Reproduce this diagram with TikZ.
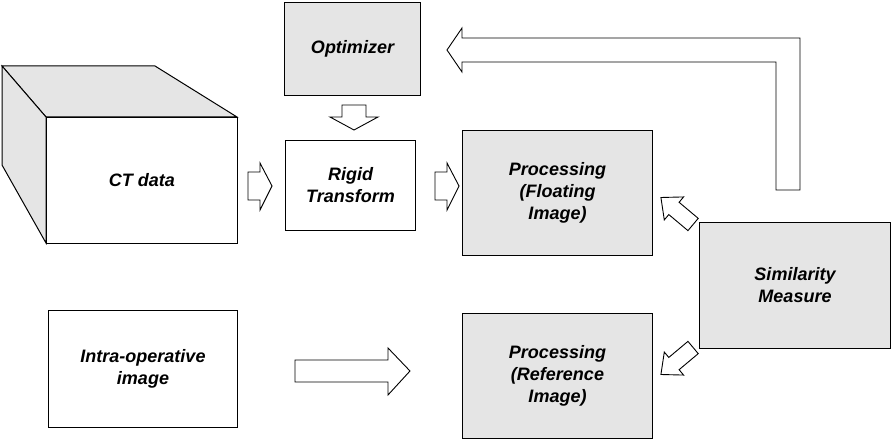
\documentclass[tikz,border=0pt]{standalone}
\usepackage{fontspec}
\setmainfont{Liberation Sans}
\begin{document}
\begin{tikzpicture}[x=1pt,y=-1pt,
  box/.style={draw,line width=1pt,fill=#1,align=center,font=\fontsize{18}{22}\selectfont\bfseries\itshape},
  box/.default=white,
  barrow/.style={draw,line width=0.9pt,fill=white,line join=miter}]
\definecolor{gr}{gray}{0.9}
\useasboundingbox (0,0) rectangle (894,443);
% cube
\draw[line width=1pt,fill=gr] (2,66) -- (155,66) -- (237,117) -- (46,117) -- cycle;
\draw[line width=1pt,fill=gr] (2,66) -- (46,117) -- (46,243) -- (2,165) -- cycle;
\node[box,minimum width=191pt,minimum height=126pt,anchor=north west] (ct) at (46,117) {CT data};
\node[box=gr,minimum width=136pt,minimum height=93pt,anchor=north west] (opt) at (284,2) {Optimizer};
\node[box,minimum width=130pt,minimum height=90pt,anchor=north west] (rig) at (285,140) {Rigid\\Transform};
\node[box=gr,minimum width=190pt,minimum height=125pt,anchor=north west] (pf) at (462,130) {Processing\\(Floating\\Image)};
\node[box=gr,minimum width=191pt,minimum height=126pt,anchor=north west] (sim) at (699,222) {Similarity\\Measure};
\node[box,minimum width=189pt,minimum height=117pt,anchor=north west] (intra) at (48,310) {Intra-operative\\image};
\node[box=gr,minimum width=190pt,minimum height=125pt,anchor=north west] (pr) at (462,313) {Processing\\(Reference\\Image)};
% block arrows
\draw[barrow] (248,172) -- (260,172) -- (260,163) -- (272,186) -- (260,210) -- (260,200) -- (248,200) -- cycle;
\draw[barrow] (435,172) -- (447,172) -- (447,163) -- (459,186) -- (447,210) -- (447,200) -- (435,200) -- cycle;
\draw[barrow] (342,105) -- (366,105) -- (366,117) -- (378,117) -- (354,130) -- (330,117) -- (342,117) -- cycle;
\draw[barrow] (295,360) -- (388,360) -- (388,348) -- (410,371) -- (388,395) -- (388,382) -- (295,382) -- cycle;
\draw[barrow] (776,190) -- (800,190) -- (800,38) -- (462,38) -- (462,28) -- (447,50) -- (462,72) -- (462,62) -- (776,62) -- cycle;
% diagonal arrows
\begin{scope}[shift={(677,211)},rotate=140]
\draw[barrow] (-21,-8) -- (4,-8) -- (4,-15) -- (21,0) -- (4,15) -- (4,8) -- (-21,8) -- cycle;
\end{scope}
\begin{scope}[shift={(677,361)},rotate=-140]
\draw[barrow] (-21,-8) -- (4,-8) -- (4,-15) -- (21,0) -- (4,15) -- (4,8) -- (-21,8) -- cycle;
\end{scope}
\end{tikzpicture}
\end{document}
